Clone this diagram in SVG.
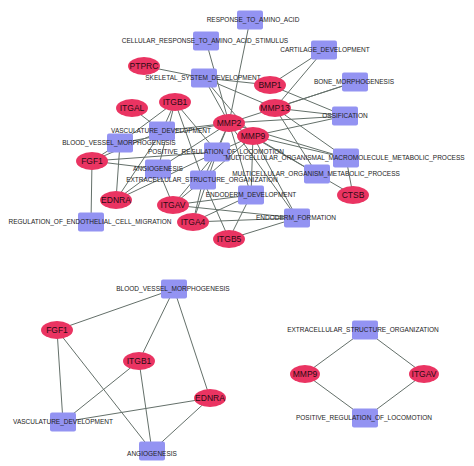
<svg xmlns="http://www.w3.org/2000/svg" width="474" height="466" viewBox="0 0 474 466">
<style>
.e line{stroke:#64706a;stroke-width:1}
.t rect{fill:#9393f2}
.g ellipse{fill:#ea3462}
.tl{font-family:"Liberation Sans",Arial,sans-serif;font-size:6.5px;fill:#222;text-anchor:middle}
.gl{font-family:"Liberation Sans",Arial,sans-serif;font-size:8.5px;fill:#2a0a12;text-anchor:middle}
</style>
<rect width="474" height="466" fill="#fff"/>
<g id="connectors" class="e">
<line x1="250" y1="20" x2="229" y2="123"/>
<line x1="206" y1="41" x2="229" y2="123"/>
<line x1="324" y1="50" x2="270" y2="85"/>
<line x1="324" y1="50" x2="275" y2="108"/>
<line x1="144" y1="66" x2="204" y2="78"/>
<line x1="204" y1="78" x2="270" y2="85"/>
<line x1="204" y1="78" x2="229" y2="123"/>
<line x1="204" y1="78" x2="253" y2="136"/>
<line x1="204" y1="78" x2="275" y2="108"/>
<line x1="355" y1="82" x2="275" y2="108"/>
<line x1="355" y1="82" x2="229" y2="123"/>
<line x1="345" y1="116" x2="270" y2="85"/>
<line x1="345" y1="116" x2="275" y2="108"/>
<line x1="345" y1="116" x2="229" y2="123"/>
<line x1="345" y1="116" x2="253" y2="136"/>
<line x1="346" y1="158" x2="229" y2="123"/>
<line x1="346" y1="158" x2="253" y2="136"/>
<line x1="346" y1="158" x2="275" y2="108"/>
<line x1="346" y1="158" x2="353" y2="195"/>
<line x1="317" y1="174" x2="229" y2="123"/>
<line x1="317" y1="174" x2="253" y2="136"/>
<line x1="317" y1="174" x2="275" y2="108"/>
<line x1="317" y1="174" x2="353" y2="195"/>
<line x1="297" y1="218" x2="173" y2="205"/>
<line x1="297" y1="218" x2="193" y2="222"/>
<line x1="297" y1="218" x2="229" y2="239"/>
<line x1="297" y1="218" x2="229" y2="123"/>
<line x1="297" y1="218" x2="253" y2="136"/>
<line x1="251" y1="195" x2="173" y2="205"/>
<line x1="251" y1="195" x2="193" y2="222"/>
<line x1="251" y1="195" x2="229" y2="239"/>
<line x1="251" y1="195" x2="229" y2="123"/>
<line x1="251" y1="195" x2="253" y2="136"/>
<line x1="203" y1="180" x2="229" y2="123"/>
<line x1="203" y1="180" x2="253" y2="136"/>
<line x1="203" y1="180" x2="173" y2="205"/>
<line x1="203" y1="180" x2="193" y2="222"/>
<line x1="203" y1="180" x2="229" y2="239"/>
<line x1="203" y1="180" x2="175" y2="102"/>
<line x1="217" y1="152" x2="253" y2="136"/>
<line x1="217" y1="152" x2="229" y2="123"/>
<line x1="217" y1="152" x2="173" y2="205"/>
<line x1="217" y1="152" x2="193" y2="222"/>
<line x1="217" y1="152" x2="175" y2="102"/>
<line x1="217" y1="152" x2="92" y2="161"/>
<line x1="217" y1="152" x2="116" y2="200"/>
<line x1="162" y1="131" x2="175" y2="102"/>
<line x1="162" y1="131" x2="92" y2="161"/>
<line x1="162" y1="131" x2="116" y2="200"/>
<line x1="162" y1="131" x2="229" y2="123"/>
<line x1="120" y1="143" x2="92" y2="161"/>
<line x1="120" y1="143" x2="175" y2="102"/>
<line x1="120" y1="143" x2="116" y2="200"/>
<line x1="120" y1="143" x2="229" y2="123"/>
<line x1="158" y1="169" x2="92" y2="161"/>
<line x1="158" y1="169" x2="175" y2="102"/>
<line x1="158" y1="169" x2="116" y2="200"/>
<line x1="158" y1="169" x2="173" y2="205"/>
<line x1="158" y1="169" x2="229" y2="123"/>
<line x1="91" y1="222" x2="92" y2="161"/>
<line x1="132" y1="108" x2="162" y2="131"/>
<line x1="174" y1="289" x2="57" y2="330"/>
<line x1="174" y1="289" x2="139" y2="361"/>
<line x1="174" y1="289" x2="210" y2="398"/>
<line x1="63" y1="422" x2="57" y2="330"/>
<line x1="63" y1="422" x2="139" y2="361"/>
<line x1="63" y1="422" x2="210" y2="398"/>
<line x1="152" y1="451" x2="57" y2="330"/>
<line x1="152" y1="451" x2="139" y2="361"/>
<line x1="152" y1="451" x2="210" y2="398"/>
<line x1="365" y1="330" x2="305" y2="374"/>
<line x1="365" y1="330" x2="424" y2="374"/>
<line x1="365" y1="418" x2="305" y2="374"/>
<line x1="365" y1="418" x2="424" y2="374"/>
</g>
<g class="t">
<g id="t_r2aa"><rect x="237" y="10.5" width="26" height="19" rx="2"/><text class="tl" x="253" y="22.3">RESPONSE_TO_AMINO_ACID</text></g>
<g id="t_craa"><rect x="193" y="31.5" width="26" height="19" rx="2"/><text class="tl" x="205" y="43.3">CELLULAR_RESPONSE_TO_AMINO_ACID_STIMULUS</text></g>
<g id="t_cart"><rect x="311" y="40.5" width="26" height="19" rx="2"/><text class="tl" x="325" y="52.3">CARTILAGE_DEVELOPMENT</text></g>
<g id="t_skel"><rect x="191" y="68.5" width="26" height="19" rx="2"/><text class="tl" x="203" y="80.3">SKELETAL_SYSTEM_DEVELOPMENT</text></g>
<g id="t_bone"><rect x="342" y="72.5" width="26" height="19" rx="2"/><text class="tl" x="354" y="84.3">BONE_MORPHOGENESIS</text></g>
<g id="t_oss"><rect x="332" y="106.5" width="26" height="19" rx="2"/><text class="tl" x="345" y="118.3">OSSIFICATION</text></g>
<g id="t_vasc"><rect x="149" y="121.5" width="26" height="19" rx="2"/><text class="tl" x="161" y="133.3">VASCULATURE_DEVELOPMENT</text></g>
<g id="t_bvm"><rect x="107" y="133.5" width="26" height="19" rx="2"/><text class="tl" x="119" y="145.3">BLOOD_VESSEL_MORPHOGENESIS</text></g>
<g id="t_posloc"><rect x="204" y="142.5" width="26" height="19" rx="2"/><text class="tl" x="216" y="154.3">POSITIVE_REGULATION_OF_LOCOMOTION</text></g>
<g id="t_mommp"><rect x="333" y="148.5" width="26" height="19" rx="2"/><text class="tl" x="345" y="160.3">MULTICELLULAR_ORGANISMAL_MACROMOLECULE_METABOLIC_PROCESS</text></g>
<g id="t_angio"><rect x="145" y="159.5" width="26" height="19" rx="2"/><text class="tl" x="158" y="171.3">ANGIOGENESIS</text></g>
<g id="t_momp"><rect x="304" y="164.5" width="26" height="19" rx="2"/><text class="tl" x="316" y="176.3">MULTICELLULAR_ORGANISM_METABOLIC_PROCESS</text></g>
<g id="t_ecm"><rect x="190" y="170.5" width="26" height="19" rx="2"/><text class="tl" x="202" y="182.3">EXTRACELLULAR_STRUCTURE_ORGANIZATION</text></g>
<g id="t_endev"><rect x="238" y="185.5" width="26" height="19" rx="2"/><text class="tl" x="251" y="197.3">ENDODERM_DEVELOPMENT</text></g>
<g id="t_enform"><rect x="284" y="208.5" width="26" height="19" rx="2"/><text class="tl" x="296" y="220.3">ENDODERM_FORMATION</text></g>
<g id="t_regend"><rect x="78" y="212.5" width="26" height="19" rx="2"/><text class="tl" x="90" y="224.3">REGULATION_OF_ENDOTHELIAL_CELL_MIGRATION</text></g>
<g id="b_bvm"><rect x="161" y="279.5" width="26" height="19" rx="2"/><text class="tl" x="173" y="291.3">BLOOD_VESSEL_MORPHOGENESIS</text></g>
<g id="b_vasc"><rect x="50" y="412.5" width="26" height="19" rx="2"/><text class="tl" x="63" y="424.3">VASCULATURE_DEVELOPMENT</text></g>
<g id="b_angio"><rect x="139" y="441.5" width="26" height="19" rx="2"/><text class="tl" x="152" y="456.3">ANGIOGENESIS</text></g>
<g id="b_ecm"><rect x="352" y="320.5" width="26" height="19" rx="2"/><text class="tl" x="363" y="332.3">EXTRACELLULAR_STRUCTURE_ORGANIZATION</text></g>
<g id="b_posloc"><rect x="352" y="408.5" width="26" height="19" rx="2"/><text class="tl" x="364" y="420.3">POSITIVE_REGULATION_OF_LOCOMOTION</text></g>
</g>
<g class="g">
<g id="g_ptprc"><ellipse cx="144" cy="66" rx="16" ry="9"/><text class="gl" x="144" y="69">PTPRC</text></g>
<g id="g_bmp1"><ellipse cx="270" cy="85" rx="16" ry="9"/><text class="gl" x="270" y="88">BMP1</text></g>
<g id="g_itgb1"><ellipse cx="175" cy="102" rx="16" ry="9"/><text class="gl" x="175" y="105">ITGB1</text></g>
<g id="g_mmp13"><ellipse cx="275" cy="108" rx="16" ry="9"/><text class="gl" x="275" y="111">MMP13</text></g>
<g id="g_itgal"><ellipse cx="132" cy="108" rx="16" ry="9"/><text class="gl" x="132" y="111">ITGAL</text></g>
<g id="g_mmp2"><ellipse cx="229" cy="123" rx="16" ry="9"/><text class="gl" x="229" y="126">MMP2</text></g>
<g id="g_mmp9"><ellipse cx="253" cy="136" rx="16" ry="9"/><text class="gl" x="253" y="139">MMP9</text></g>
<g id="g_fgf1"><ellipse cx="92" cy="161" rx="16" ry="9"/><text class="gl" x="92" y="164">FGF1</text></g>
<g id="g_ctsb"><ellipse cx="353" cy="195" rx="16" ry="9"/><text class="gl" x="353" y="198">CTSB</text></g>
<g id="g_ednra"><ellipse cx="116" cy="200" rx="16" ry="9"/><text class="gl" x="116" y="203">EDNRA</text></g>
<g id="g_itgav"><ellipse cx="173" cy="205" rx="16" ry="9"/><text class="gl" x="173" y="208">ITGAV</text></g>
<g id="g_itga4"><ellipse cx="193" cy="222" rx="16" ry="9"/><text class="gl" x="193" y="225">ITGA4</text></g>
<g id="g_itgb5"><ellipse cx="229" cy="239" rx="16" ry="9"/><text class="gl" x="229" y="242">ITGB5</text></g>
<g id="b_fgf1"><ellipse cx="57" cy="330" rx="16" ry="9"/><text class="gl" x="57" y="333">FGF1</text></g>
<g id="b_itgb1"><ellipse cx="139" cy="361" rx="16" ry="9"/><text class="gl" x="139" y="364">ITGB1</text></g>
<g id="b_ednra"><ellipse cx="210" cy="398" rx="16" ry="9"/><text class="gl" x="210" y="401">EDNRA</text></g>
<g id="b_mmp9"><ellipse cx="305" cy="374" rx="15" ry="9"/><text class="gl" x="305" y="377">MMP9</text></g>
<g id="b_itgav"><ellipse cx="424" cy="374" rx="15" ry="9"/><text class="gl" x="424" y="377">ITGAV</text></g>
</g>
</svg>
